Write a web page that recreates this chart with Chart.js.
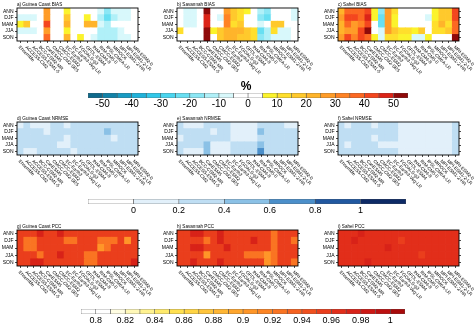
<!DOCTYPE html>
<html><head><meta charset="utf-8">
<script src="https://cdn.jsdelivr.net/npm/chart.js@4.4.0/dist/chart.umd.min.js"></script>
<style>
html,body{margin:0;padding:0;background:#fff;}
body{width:474px;height:324px;position:relative;overflow:hidden;}
canvas{position:absolute;display:block;}
</style></head><body>
<script>
const models = ['Ensemble','ACCESS-CM2','ACCESS-ESM1-5','BCC-CSM2-MR','CanESM5','CMCC-CM2-SR5','CMCC-ESM2','EC-Earth3','EC-Earth3-Veg-LR','FGOALS-g3','GFDL-ESM4','INM-CM4-8','INM-CM5-0','IPSL-CM6A-LR','MIROC6','MPI-ESM1-2-HR','MPI-ESM1-2-LR','MRI-ESM2-0'];
const seasons = ['ANN','DJF','MAM','JJA','SON'];

// BIAS (%) rows: ANN, DJF, MAM, JJA, SON
const guineaBias = [
  [0,0,0,0,28,0,0,8,0,0,0,0,-10,-18,-10,-8,-8,0],
  [-8,-10,-8,0,25,0,0,18,0,0,8,0,-12,-22,-12,-10,-10,0],
  [8,15,0,0,42,0,0,22,0,0,22,22,-10,-12,0,0,0,0],
  [-6,-8,-6,0,28,0,0,8,0,0,0,0,-12,-15,-12,-8,0,0],
  [0,0,0,0,35,0,0,22,0,8,0,-6,-12,-15,-15,-10,-6,0]
];
const savannahBias = [
  [0,-8,-8,0,58,0,0,25,15,12,8,0,-15,-18,0,0,0,-8],
  [0,-8,-8,0,48,0,-8,30,15,10,0,0,-20,-25,0,0,0,-8],
  [0,-8,-8,0,45,0,0,30,12,18,0,0,-10,0,15,15,0,0],
  [10,0,0,0,60,8,15,22,20,22,18,12,-25,-12,10,-8,-10,0],
  [0,0,0,0,58,0,18,20,20,18,15,10,-20,-12,-10,-10,-8,0]
];
const sahelBias = [
  [22,35,35,38,42,8,-20,25,10,0,0,0,0,0,8,18,15,40],
  [25,42,40,35,45,5,-25,25,8,0,0,0,0,-10,8,15,18,42],
  [22,35,28,30,42,0,-22,25,8,0,0,0,0,0,10,22,12,35],
  [20,25,28,40,52,0,-10,25,15,12,12,8,18,0,10,12,18,35],
  [25,42,30,40,38,8,-8,10,10,8,8,-10,-10,8,0,0,0,52]
];
// NRMSE
const guineaNrmse = [
  [0.15,0.25,0.15,0.15,0.15,0.25,0.25,0.15,0.25,0.25,0.25,0.25,0.25,0.25,0.25,0.25,0.25,0.25],
  [0.25,0.25,0.25,0.25,0.15,0.25,0.25,0.25,0.25,0.25,0.25,0.25,0.25,0.45,0.25,0.25,0.25,0.25],
  [0.25,0.25,0.25,0.25,0.25,0.25,0.25,0.15,0.25,0.25,0.25,0.25,0.25,0.25,0.15,0.25,0.25,0.25],
  [0.25,0.25,0.25,0.25,0.25,0.25,0.15,0.15,0.25,0.25,0.25,0.25,0.25,0.25,0.25,0.25,0.25,0.25],
  [0.25,0.15,0.15,0.25,0.25,0.25,0.25,0.25,0.15,0.25,0.25,0.25,0.25,0.25,0.25,0.25,0.25,0.25]
];
const savannahNrmse = [
  [0.25,0.15,0.15,0.15,0.25,0.25,0.25,0.25,0.15,0.15,0.15,0.15,0.25,0.25,0.25,0.25,0.15,0.15],
  [0.25,0.25,0.25,0.25,0.25,0.15,0.25,0.25,0.15,0.15,0.15,0.15,0.45,0.25,0.25,0.25,0.25,0.25],
  [0.15,0.25,0.25,0.25,0.25,0.25,0.25,0.25,0.15,0.15,0.15,0.15,0.25,0.25,0.25,0.25,0.25,0.25],
  [0.25,0.25,0.25,0.25,0.5,0.15,0.15,0.15,0.25,0.25,0.25,0.25,0.5,0.25,0.25,0.25,0.25,0.25],
  [0.25,0.15,0.15,0.15,0.5,0.15,0.15,0.15,0.25,0.25,0.25,0.25,0.7,0.25,0.25,0.25,0.25,0.25]
];
const sahelNrmse = [
  [0.25,0.15,0.25,0.25,0.25,0.15,0.25,0.25,0.25,0.15,0.15,0.15,0.15,0.15,0.15,0.15,0.15,0.25],
  [0.25,0.25,0.25,0.25,0.25,0.25,0.25,0.25,0.25,0.15,0.15,0.15,0.15,0.15,0.15,0.15,0.15,0.25],
  [0.25,0.25,0.25,0.25,0.25,0.15,0.25,0.25,0.25,0.15,0.15,0.15,0.15,0.15,0.15,0.15,0.15,0.25],
  [0.25,0.15,0.25,0.25,0.25,0.25,0.15,0.15,0.15,0.15,0.15,0.15,0.15,0.15,0.15,0.15,0.15,0.25],
  [0.25,0.25,0.25,0.25,0.25,0.25,0.25,0.25,0.25,0.15,0.15,0.15,0.15,0.15,0.15,0.15,0.15,0.25]
];
// PCC
const guineaPcc = [
  [.955,.955,.955,.975,.955,.955,.975,.955,.955,.955,.955,.955,.955,.955,.955,.955,.955,.955],
  [.955,.925,.925,.955,.955,.955,.955,.925,.925,.955,.955,.955,.925,.925,.925,.955,.905,.955],
  [.955,.925,.925,.955,.955,.955,.955,.955,.955,.955,.955,.955,.905,.925,.955,.955,.955,.955],
  [.955,.955,.955,.925,.955,.955,.975,.955,.955,.955,.925,.925,.955,.955,.955,.955,.955,.955],
  [.955,.955,.975,.975,.955,.955,.955,.955,.955,.955,.925,.925,.955,.955,.955,.955,.955,.975]
];
const savannahPcc = [
  [.955,.955,.975,.975,.955,.955,.975,.955,.955,.955,.955,.955,.955,.955,.925,.955,.955,.955],
  [.955,.955,.955,.955,.925,.955,.975,.955,.955,.955,.955,.975,.955,.955,.925,.955,.955,.925],
  [.955,.955,.975,.975,.955,.955,.955,.975,.955,.955,.955,.955,.955,.955,.925,.955,.955,.955],
  [.955,.955,.955,.955,.905,.955,.955,.955,.955,.955,.925,.925,.925,.905,.925,.955,.955,.955],
  [.955,.955,.975,.955,.955,.955,.975,.955,.955,.955,.955,.955,.955,.905,.925,.955,.955,.925]
];
const sahelPcc = [
  [.965,.965,.965,.975,.965,.965,.965,.965,.965,.965,.965,.965,.965,.965,.965,.965,.965,.965],
  [.965,.965,.975,.965,.965,.965,.965,.965,.965,.955,.965,.965,.965,.965,.965,.965,.965,.965],
  [.965,.965,.965,.965,.965,.965,.965,.975,.965,.965,.965,.965,.965,.965,.965,.965,.965,.965],
  [.965,.965,.965,.965,.965,.965,.965,.965,.965,.965,.965,.965,.955,.965,.965,.965,.965,.965],
  [.965,.965,.965,.965,.975,.965,.965,.965,.965,.965,.965,.965,.965,.965,.965,.965,.965,.965]
];

// colour levels and tick labels
const biasLevels = [-50,-45,-40,-35,-30,-25,-20,-15,-10,-5,0,5,10,15,20,25,30,35,40,45,50];
const biasColors = ['#0f6a8c','#1282a8','#189bc3','#20b2da','#31c7e8','#4ad5ef','#68dff2','#8be7f5','#b0f0f8','#d8f8fb','#ffffff','#ffffff','#fbf32c','#ffdf2c','#ffc92c','#ffb42a','#ff9c28','#ff8325','#fc6822','#f4461e','#dc2418','#8f0a0a'];
const biasTicks = [-50,-40,-30,-20,-10,0,10,20,30,40,50];
const biasTickLabels = ['-50','-40','-30','-20','-10','0','10','20','30','40','50'];

const nrmseLevels = [0,0.2,0.4,0.6,0.8,1];
const nrmseColors = ['#ffffff','#e2f0fa','#bfdef3','#8bc1e6','#4b8fca','#2158a0','#0d2a66'];
const nrmseTicks = [0,0.2,0.4,0.6,0.8,1];
const nrmseTickLabels = ['0','0.2','0.4','0.6','0.8','1'];

const pccLevels = [0.80,0.81,0.82,0.83,0.84,0.85,0.86,0.87,0.88,0.89,0.90,0.91,0.92,0.93,0.94,0.95,0.96,0.97,0.98,0.99,1.00];
const pccColors = ['#ffffff','#ffffff','#fffde2','#fff8b8','#fff290','#ffea6c','#ffe050','#ffd444','#ffc53c','#ffb634','#ffa62e','#ff9628','#fd8524','#fa7422','#f66220','#f0501e','#ea3e1c','#e22e1a','#d82218','#cc1814','#bc1010','#a80a0a'];
const pccTicks = [0.8,0.82,0.84,0.86,0.88,0.9,0.92,0.94,0.96,0.98,1];
const pccTickLabels = ['0.8','0.82','0.84','0.86','0.88','0.9','0.92','0.94','0.96','0.98','1'];

const FONT = '"Liberation Sans", Arial, sans-serif';

function colorOf(v, levels, colors){
  let i = 0;
  while (i < levels.length && v >= levels[i] - 1e-9) i++;
  return colors[i];
}

const deco = {
  id: 'deco',
  afterDraw(chart, args, opts){
    const {ctx, chartArea: a} = chart;
    ctx.save();
    ctx.strokeStyle = '#000'; ctx.lineWidth = 0.9;
    ctx.strokeRect(a.left, a.top, a.right - a.left, a.bottom - a.top);
    ctx.fillStyle = '#000';
    ctx.font = '4.6px ' + FONT;
    ctx.textAlign = 'left'; ctx.textBaseline = 'alphabetic';
    ctx.fillText(opts.title, a.left, a.top - 2.5);
    const xs = chart.scales.x;
    ctx.font = '4.6px ' + FONT;
    ctx.textBaseline = 'middle';
    chart.data.labels.forEach((lab, i) => {
      const x = xs.getPixelForTick(i);
      ctx.save();
      ctx.translate(x - 1.2, a.bottom + 5.5);
      ctx.rotate(Math.PI / 4);
      ctx.fillText(lab, 0, 0);
      ctx.restore();
    });
    ctx.restore();
  }
};

function heat(x, y, w, h, title, matrix, levels, colors){
  const LW = 17, RW = 4, PT = 8, PB = 44, PR = 46;
  const W = Math.round(LW + w + RW + PR), H = Math.round(PT + h + 2 + PB);
  const c = document.createElement('canvas');
  c.width = W; c.height = H;
  c.style.left = (x - LW) + 'px'; c.style.top = (y - PT) + 'px';
  c.style.width = W + 'px'; c.style.height = H + 'px';
  document.body.appendChild(c);
  const rowsBottomUp = [4, 3, 2, 1, 0];
  new Chart(c, {
    type: 'bar',
    data: {
      labels: models,
      datasets: rowsBottomUp.map(r => ({
        label: seasons[r],
        data: models.map(() => 1),
        backgroundColor: matrix[r].map(v => colorOf(v, levels, colors)),
        borderWidth: 0,
        barPercentage: 1, categoryPercentage: 1,
        inflateAmount: 0.35,
        xAxisID: 'x', yAxisID: 'y'
      }))
    },
    options: {
      responsive: false, animation: false, events: [],
      layout: {padding: {top: PT, bottom: PB, left: 0, right: PR}},
      plugins: {legend: {display: false}, tooltip: {enabled: false}, deco: {title}},
      scales: {
        x: {type: 'category', stacked: true, position: 'bottom', offset: true,
            grid: {display: true, drawOnChartArea: false, drawTicks: true, tickLength: 2, offset: false, color: '#000', lineWidth: 0.7},
            border: {display: false}, ticks: {display: false, autoSkip: false},
            afterFit: s => { s.height = 2; }},
        y: {type: 'linear', stacked: true, min: 0, max: 5, display: false},
        yl: {type: 'category', labels: seasons, position: 'left', offset: true,
            grid: {drawOnChartArea: false, tickLength: 2, color: '#000', lineWidth: 0.7, offset: false},
            border: {display: false},
            ticks: {font: {family: FONT, size: 5}, color: '#000', padding: 1.5, autoSkip: false},
            afterFit: s => { s.width = LW; }},
        yr: {type: 'category', labels: seasons, position: 'right', offset: true,
            grid: {drawOnChartArea: false, tickLength: 2, color: '#000', lineWidth: 0.7, offset: false},
            border: {display: false}, ticks: {display: false, autoSkip: false},
            afterFit: s => { s.width = RW; }}
      }
    },
    plugins: [deco]
  });
}

const unitLabel = {
  id: 'unitLabel',
  afterDraw(chart, args, opts){
    if (!opts.text) return;
    const {ctx, chartArea: a} = chart;
    ctx.save();
    ctx.fillStyle = '#000';
    ctx.font = opts.font;
    ctx.textAlign = 'center'; ctx.textBaseline = 'middle';
    ctx.fillText(opts.text, (a.left + a.right) / 2 - 2, a.top - 6.5);
    ctx.restore();
  }
};

function cbar(vmin, vmax, px0, px1, y0, y1, padT, levels, colors, ticks, tickLabels, fontSize, tickPad, unit){
  const PL = 16, PR = 16, AH = 16;
  const W = Math.round(px1 - px0 + PL + PR), H = Math.round(padT + (y1 - y0) + AH);
  const c = document.createElement('canvas');
  c.width = W; c.height = H;
  c.style.left = (px0 - PL) + 'px'; c.style.top = (y0 - padT) + 'px';
  c.style.width = W + 'px'; c.style.height = H + 'px';
  document.body.appendChild(c);
  const edges = [vmin].concat(levels, [vmax]);
  const ds = colors.map((col, i) => ({
    data: [[edges[i], edges[i + 1]]],
    backgroundColor: col, borderColor: '#555', borderWidth: 0.6, borderSkipped: false,
    barPercentage: 1, categoryPercentage: 1, grouped: false
  }));
  new Chart(c, {
    type: 'bar',
    data: {labels: [''], datasets: ds},
    options: {
      indexAxis: 'y', responsive: false, animation: false, events: [],
      layout: {padding: {top: padT, bottom: 0, left: PL, right: PR}},
      plugins: {legend: {display: false}, tooltip: {enabled: false}, unitLabel: {text: unit, font: 'bold 12px ' + FONT}},
      scales: {
        x: {type: 'linear', min: vmin, max: vmax,
            afterBuildTicks: s => { s.ticks = ticks.map(v => ({value: v})); },
            ticks: {autoSkip: false, maxRotation: 0, color: '#000', padding: tickPad,
                    font: {family: FONT, size: fontSize},
                    callback: (v, i) => tickLabels[i]},
            grid: {display: false, drawTicks: false}, border: {display: false},
            afterFit: s => { s.height = AH; }},
        y: {type: 'category', display: false}
      }
    },
    plugins: [unitLabel]
  });
}

// Row 1: BIAS
heat(17, 8, 121, 33, 'a) Guinea Coast BIAS', guineaBias, biasLevels, biasColors);
heat(177, 8, 121, 33, 'b) Savannah BIAS', savannahBias, biasLevels, biasColors);
heat(338, 8, 121, 33, 'c) Sahel BIAS', sahelBias, biasLevels, biasColors);
cbar(-55, 55, 88, 408, 93, 98, 13, biasLevels, biasColors, biasTicks, biasTickLabels, 10, 0.3, '%');
// Row 2: NRMSE
heat(17, 122, 121, 33, 'd) Guinea Coast NRMSE', guineaNrmse, nrmseLevels, nrmseColors);
heat(177, 122, 121, 33, 'e) Savannah NRMSE', savannahNrmse, nrmseLevels, nrmseColors);
heat(338, 122, 121, 33, 'f) Sahel NRMSE', sahelNrmse, nrmseLevels, nrmseColors);
cbar(-0.2, 1.2, 88, 406, 199, 204, 3, nrmseLevels, nrmseColors, nrmseTicks, nrmseTickLabels, 9, 1, '');
// Row 3: PCC
heat(17, 230, 121, 36, 'g) Guinea Coast PCC', guineaPcc, pccLevels, pccColors);
heat(177, 230, 121, 36, 'h) Savannah PCC', savannahPcc, pccLevels, pccColors);
heat(338, 230, 121, 36, 'i) Sahel PCC', sahelPcc, pccLevels, pccColors);
cbar(0.79, 1.01, 81, 405, 309, 314, 3, pccLevels, pccColors, pccTicks, pccTickLabels, 9, 1.5, '');
</script>
</body></html>
